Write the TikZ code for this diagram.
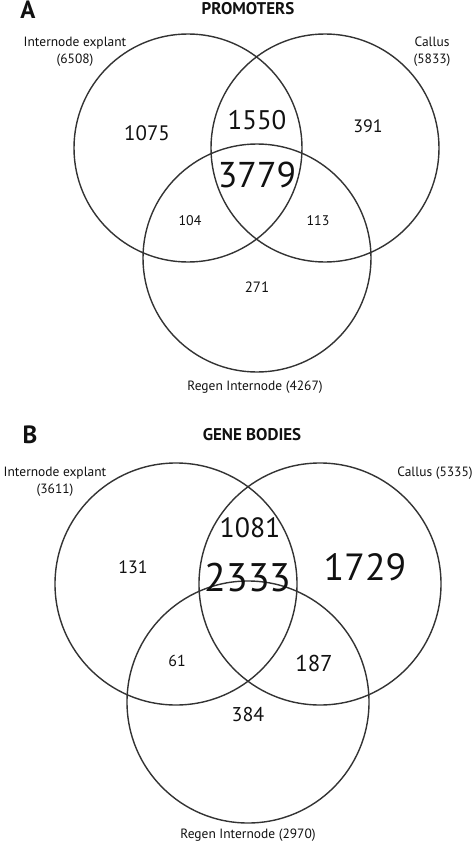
\documentclass[tikz,border=0pt]{standalone}
\usepackage{fontspec}
\setmainfont{PT Sans}
\usepackage{xcolor}
\usepackage{tikz}
\usetikzlibrary{positioning}
\definecolor{vnline}{HTML}{333333}
\definecolor{vntext}{HTML}{111111}
\tikzset{
  vset/.style={circle,draw=vnline,line width=1.4bp,minimum size=228bp,inner sep=0pt},
  vsetb/.style={vset,minimum size=242bp},
  vcount/.style={font=\fontsize{#1}{#1}\selectfont,text=vntext,inner sep=0pt},
  vlabel/.style={font=\fontsize{13.5}{17}\selectfont,align=center,text=vntext,inner sep=0pt},
  vtitle/.style={font=\bfseries\fontsize{17}{17}\selectfont,text=vntext,inner sep=0pt},
  vpanel/.style={font=\bfseries\fontsize{25}{25}\selectfont,text=vntext,inner sep=0pt}
}
\begin{document}
\begin{tikzpicture}[x=1bp,y=-1bp]
  \useasboundingbox (0,0) rectangle (474,845);
  % A: promoters
  \node[vpanel] (pa) at (28,10) {A};
  \node[vtitle] (ta) at (248,9) {PROMOTERS};
  \node[vset] (ia) at (188,148) {};
  \node[vset] (ca) at (325,148) {};
  \node[vset] (ra) at (257,258) {};
  \node[vlabel] (lia) at (75,52) {Internode explant\\(6508)};
  \node[vlabel] (lca) at (432,52) {Callus\\(5833)};
  \node[vlabel] (lra) at (255,387) {Regen Internode (4267)};
  \node[vcount=21] (na1) at (147,133) {1075};
  \node[vcount=27] (na2) at (257,120) {1550};
  \node[vcount=18] (na3) at (368,126) {391};
  \node[vcount=36] (na4) at (257,175) {3779};
  \node[vcount=14] (na5) at (190,221) {104};
  \node[vcount=14] (na6) at (318,221) {113};
  \node[vcount=15] (na7) at (257,287) {271};
  % B: gene bodies
  \node[vpanel] (pb) at (30,435) {B};
  \node[vtitle] (tb) at (252,435) {GENE BODIES};
  \node[vsetb] (ib) at (176,584) {};
  \node[vsetb] (cb) at (320,584) {};
  \node[vsetb] (rb) at (248,702) {};
  \node[vlabel] (lib) at (55,482) {Internode explant\\(3611)};
  \node[vlabel] (lcb) at (435,473) {Callus (5335)};
  \node[vlabel] (lrb) at (248,835) {Regen Internode (2970)};
  \node[vcount=18] (nb1) at (133,567) {131};
  \node[vcount=28] (nb2) at (250,528) {1081};
  \node[vcount=38] (nb3) at (365,567) {1729};
  \node[vcount=40] (nb4) at (248,578) {2333};
  \node[vcount=16] (nb5) at (177,661) {61};
  \node[vcount=23] (nb6) at (314,663) {187};
  \node[vcount=20] (nb7) at (248,715) {384};
\end{tikzpicture}
\end{document}
